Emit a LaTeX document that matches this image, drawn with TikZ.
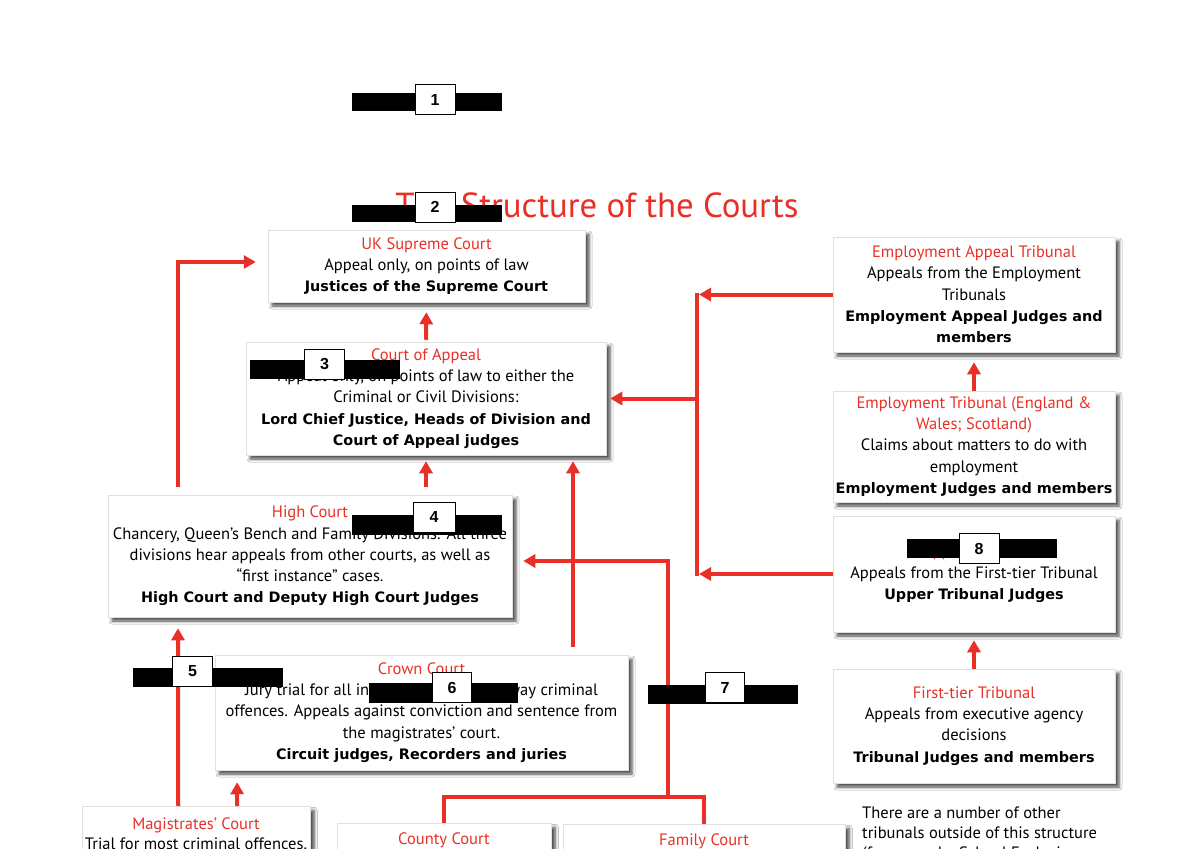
\documentclass[tikz,border=0pt]{standalone}
\usepackage{fontspec}
\setmainfont{PT Sans}
\newfontfamily\numfont{Liberation Sans}
\newfontfamily\dvs{DejaVu Sans}
\newcommand{\B}[1]{{\dvs\bfseries\fontsize{14.4}{21.3}\selectfont #1}}
\usetikzlibrary{arrows.meta,shadows.blur,calc}
\definecolor{cred}{RGB}{233,48,38}
\begin{document}
\begin{tikzpicture}[x=1pt,y=-1pt,
  box/.style={draw=black!12, line width=0.5pt, fill=white, align=center, inner sep=0pt,
    font=\fontsize{16.5}{21.3}\selectfont,
    blur shadow={shadow xshift=4pt, shadow yshift=-4pt, shadow blur radius=3pt, shadow opacity=70}},
  lbl/.style={inner sep=0pt, font=\fontsize{16.5}{21.3}\selectfont},
  conn/.style={draw=cred, line width=4pt},
  arr/.style={conn, -{Triangle[length=12pt,width=13pt]}},
  bar/.style={fill=black, minimum width=150, inner sep=0pt},
  tag/.style={draw=black, fill=white, line width=0.7pt, minimum width=40, minimum height=30, inner sep=0pt,
    font=\numfont\bfseries\fontsize{16}{16}\selectfont}
]
\useasboundingbox[fill=white] (0,0) rectangle (1200,849);

% title
\node[anchor=base, inner sep=0pt, text=cred, font=\fontsize{34.8}{38}\selectfont] (title) at (597,217) {The Structure of the Courts};

% boxes
\node[box, minimum width=317, minimum height=72] (sc) at (426.5,266)
  {\textcolor{cred}{UK Supreme Court}\\Appeal only, on points of law\\\B{Justices of the Supreme Court}};
\node[box, minimum width=360, minimum height=113] (ca) at (426,398.5)
  {\textcolor{cred}{Court of Appeal}\\Appeal only, on points of law to either the\\Criminal or Civil Divisions:\\\B{Lord Chief Justice, Heads of Division and}\\\B{Court of Appeal judges}};
\node[box, minimum width=404, minimum height=122] (hc) at (310,556)
  {\textcolor{cred}{High Court}\\Chancery, Queen’s Bench and Family Divisions. All three\\divisions hear appeals from other courts, as well as\\“first instance” cases.\\\B{High Court and Deputy High Court Judges}};
\node[box, minimum width=413, minimum height=115] (crown) at (421.5,712.5)
  {\textcolor{cred}{Crown Court}\\Jury trial for all indictable and either-way criminal\\offences. Appeals against conviction and sentence from\\the magistrates’ court.\\\B{Circuit judges, Recorders and juries}};
\node[box, minimum width=282, minimum height=115] (eat) at (974,294.5)
  {\textcolor{cred}{Employment Appeal Tribunal}\\Appeals from the Employment\\Tribunals\\\B{Employment Appeal Judges and}\\\B{members}};
\node[box, minimum width=282, minimum height=111] (et) at (974,446.5)
  {\textcolor{cred}{Employment Tribunal (England \&}\\\textcolor{cred}{Wales; Scotland)}\\Claims about matters to do with\\employment\\\B{Employment Judges and members}};
\node[box, minimum width=282, minimum height=116] (ut) at (974,574)
  {\textcolor{cred}{Upper Tribunal}\\Appeals from the First-tier Tribunal\\\B{Upper Tribunal Judges}};
\node[box, minimum width=282, minimum height=114] (ft) at (974,726)
  {\textcolor{cred}{First-tier Tribunal}\\Appeals from executive agency\\decisions\\\B{Tribunal Judges and members}};

\node[box, anchor=north west, minimum width=228, minimum height=80] (mag) at (82,806) {};
\node[lbl, anchor=base, text=cred] (magt1) at (196,829) {Magistrates’ Court};
\node[lbl, anchor=base] (magt2) at (196,849) {Trial for most criminal offences.};
\node[box, anchor=north west, minimum width=214, minimum height=60] (cc) at (337,823) {};
\node[lbl, anchor=base, text=cred] (cct) at (444,844) {County Court};
\node[box, anchor=north west, minimum width=282, minimum height=60] (fc) at (563,824) {};
\node[lbl, anchor=base, text=cred] (fct) at (704,845) {Family Court};

\node[lbl, anchor=base west] (note1) at (862,818) {There are a number of other};
\node[lbl, anchor=base west] (note2) at (862,838) {tribunals outside of this structure};
\node[lbl, anchor=base west] (note3) at (862,858) {(for example, School Exclusion};

% connectors
\draw[arr, shorten >=10pt] ($(ca.north)+(0,-2)$) -- (sc.south);
\draw[arr, shorten >=6pt] ($(hc.north)+(116,-8)$) -- (ca.south);
\draw[arr, shorten >=6pt] ($(crown.north)+(151.5,-8)$) -- ($(ca.south)+(147,0)$);
\draw[arr, shorten >=12pt] ($(hc.north west)+(70,-8)$) |- ($(sc.west)+(0,-4)$);

\coordinate (tT) at (697,292.5);
\coordinate (tB) at (697,576);
\coordinate (tTa) at (699,294.5);
\coordinate (tBa) at (699,574);
\coordinate (tM) at (697,398.5);
\draw[conn] (tT) -- (tB);
\draw[arr] (eat.west) -- (tTa);
\draw[arr] (ut.west) -- (tBa);
\draw[arr, shorten >=4pt] (tM) -- (ca.east);

\draw[arr, shorten >=10pt] (et.north) -- (eat.south);
\draw[arr, shorten >=8pt] (ft.north) -- (ut.south);

\draw[conn] (cc.north) -- ++(0,-26) -| (fc.north);
\coordinate (fj) at (668,797);
\draw[arr, shorten >=11pt] (fj) |- ($(hc.east)+(0,5)$);

\draw[arr, shorten >=11pt] ($(mag.north)+(-18,0)$) -- ($(hc.south)+(-132,0)$);
\draw[arr, shorten >=12pt] ($(mag.north)+(41,0)$) -- ($(crown.south)+(-184.5,0)$);

% redaction bars with numbered tags
\node[bar, minimum height=18] (b1) at (427,102) {};
\node[tag] (t1) at (435,99.5) {1};
\node[bar, minimum height=17] (b2) at (427,213.5) {};
\node[tag] (t2) at (435,207) {2};
\node[bar, minimum height=19] (b3) at (325,369.5) {};
\node[tag] (t3) at (324.5,364) {3};
\node[bar, minimum height=20] (b4) at (427,525) {};
\node[tag, minimum width=42] (t4) at (434,517) {4};
\node[bar, minimum height=19] (b5) at (207.5,677.5) {};
\node[tag] (t5) at (192.5,671) {5};
\node[bar, minimum height=20, minimum width=149] (b6) at (443.5,693) {};
\node[tag, minimum width=39] (t6) at (452,687.5) {6};
\node[bar, minimum height=19] (b7) at (722.5,694.5) {};
\node[tag, minimum width=39] (t7) at (725,687.5) {7};
\node[bar, minimum height=19] (b8) at (982,548.5) {};
\node[tag] (t8) at (979,548.5) {8};
\end{tikzpicture}
\end{document}
